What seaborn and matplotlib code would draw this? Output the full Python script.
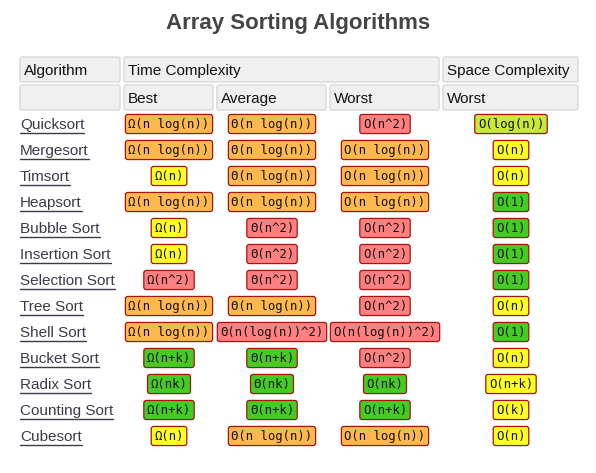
import matplotlib
matplotlib.use("Agg")
import matplotlib.pyplot as plt
from matplotlib.patches import FancyBboxPatch
import seaborn as sns

sns.set_theme(style="white")
plt.rcParams['font.family'] = ['Liberation Sans', 'DejaVu Sans']

algorithms = ["Quicksort", "Mergesort", "Timsort", "Heapsort", "Bubble Sort",
              "Insertion Sort", "Selection Sort", "Tree Sort", "Shell Sort",
              "Bucket Sort", "Radix Sort", "Counting Sort", "Cubesort"]
best = ["Ω(n log(n))", "Ω(n log(n))", "Ω(n)", "Ω(n log(n))", "Ω(n)", "Ω(n)",
        "Ω(n^2)", "Ω(n log(n))", "Ω(n log(n))", "Ω(n+k)", "Ω(nk)", "Ω(n+k)", "Ω(n)"]
average = ["Θ(n log(n))", "Θ(n log(n))", "Θ(n log(n))", "Θ(n log(n))", "Θ(n^2)",
           "Θ(n^2)", "Θ(n^2)", "Θ(n log(n))", "Θ(n(log(n))^2)", "Θ(n+k)", "Θ(nk)",
           "Θ(n+k)", "Θ(n log(n))"]
worst = ["O(n^2)", "O(n log(n))", "O(n log(n))", "O(n log(n))", "O(n^2)", "O(n^2)",
         "O(n^2)", "O(n^2)", "O(n(log(n))^2)", "O(n^2)", "O(nk)", "O(n+k)", "O(n log(n))"]
space = ["O(log(n))", "O(n)", "O(n)", "O(1)", "O(1)", "O(1)", "O(1)", "O(n)",
         "O(1)", "O(n)", "O(n+k)", "O(k)", "O(n)"]
best_cls = ["o", "o", "y", "o", "y", "y", "r", "o", "o", "g", "g", "g", "y"]
avg_cls = ["o", "o", "o", "o", "r", "r", "r", "o", "r", "g", "g", "g", "o"]
worst_cls = ["r", "o", "o", "o", "r", "r", "r", "r", "r", "r", "g", "g", "o"]
space_cls = ["l", "y", "y", "g", "g", "g", "g", "y", "g", "y", "y", "y", "y"]

palette = {"o": "#ffb84d", "y": "#ffff22", "r": "#ff8080", "g": "#44cc22", "l": "#c8e83a"}

W, H = 596, 473
fig = plt.figure(figsize=(W / 100, H / 100), dpi=100)
ax = fig.add_axes([0, 0, 1, 1])
ax.set_xlim(0, W)
ax.set_ylim(H, 0)
ax.axis("off")

ax.text(W / 2, 23, "Array Sorting Algorithms", ha="center", va="center",
        fontsize=16, fontweight="bold", color="#444444")

def header(x0, x1, y0, y1, label):
    ax.add_patch(FancyBboxPatch((x0, y0), x1 - x0, y1 - y0,
                                boxstyle="round,pad=0,rounding_size=2",
                                fc="#f0f0f0", ec="#d8d8d8", lw=1))
    if label:
        ax.text(x0 + 4, (y0 + y1) / 2 + 1, label, ha="left", va="center",
                fontsize=11, color="#111111")

header(20, 120, 57, 82, "Algorithm")
header(124, 439, 57, 82, "Time Complexity")
header(443, 578, 57, 82, "Space Complexity")
header(20, 120, 85, 110, "")
header(124, 213, 85, 110, "Best")
header(217, 326, 85, 110, "Average")
header(330, 439, 85, 110, "Worst")
header(443, 578, 85, 110, "Worst")

col_centers = [169, 272, 385, 511]
columns = [(best, best_cls), (average, avg_cls), (worst, worst_cls), (space, space_cls)]

fig.canvas.draw()
renderer = fig.canvas.get_renderer()
for i, name in enumerate(algorithms):
    y = 124 + 26 * i
    t = ax.text(20, y + 1, name, ha="left", va="center", fontsize=11, color="#3a3a4a")
    bb = t.get_window_extent(renderer).transformed(ax.transData.inverted())
    ax.plot([bb.x0, bb.x1], [y + 9, y + 9], color="#3a3a4a", lw=1.0)
    for (vals, cls), cx in zip(columns, col_centers):
        ax.text(cx, y, vals[i], ha="center", va="center", fontsize=8.8,
                family=["DejaVu Sans Mono"], color="#111111",
                bbox=dict(boxstyle="round,pad=0.25,rounding_size=0.2",
                          fc=palette[cls[i]], ec="#aa1111", lw=0.9))

fig.savefig("out.png", dpi=100, facecolor="white")
